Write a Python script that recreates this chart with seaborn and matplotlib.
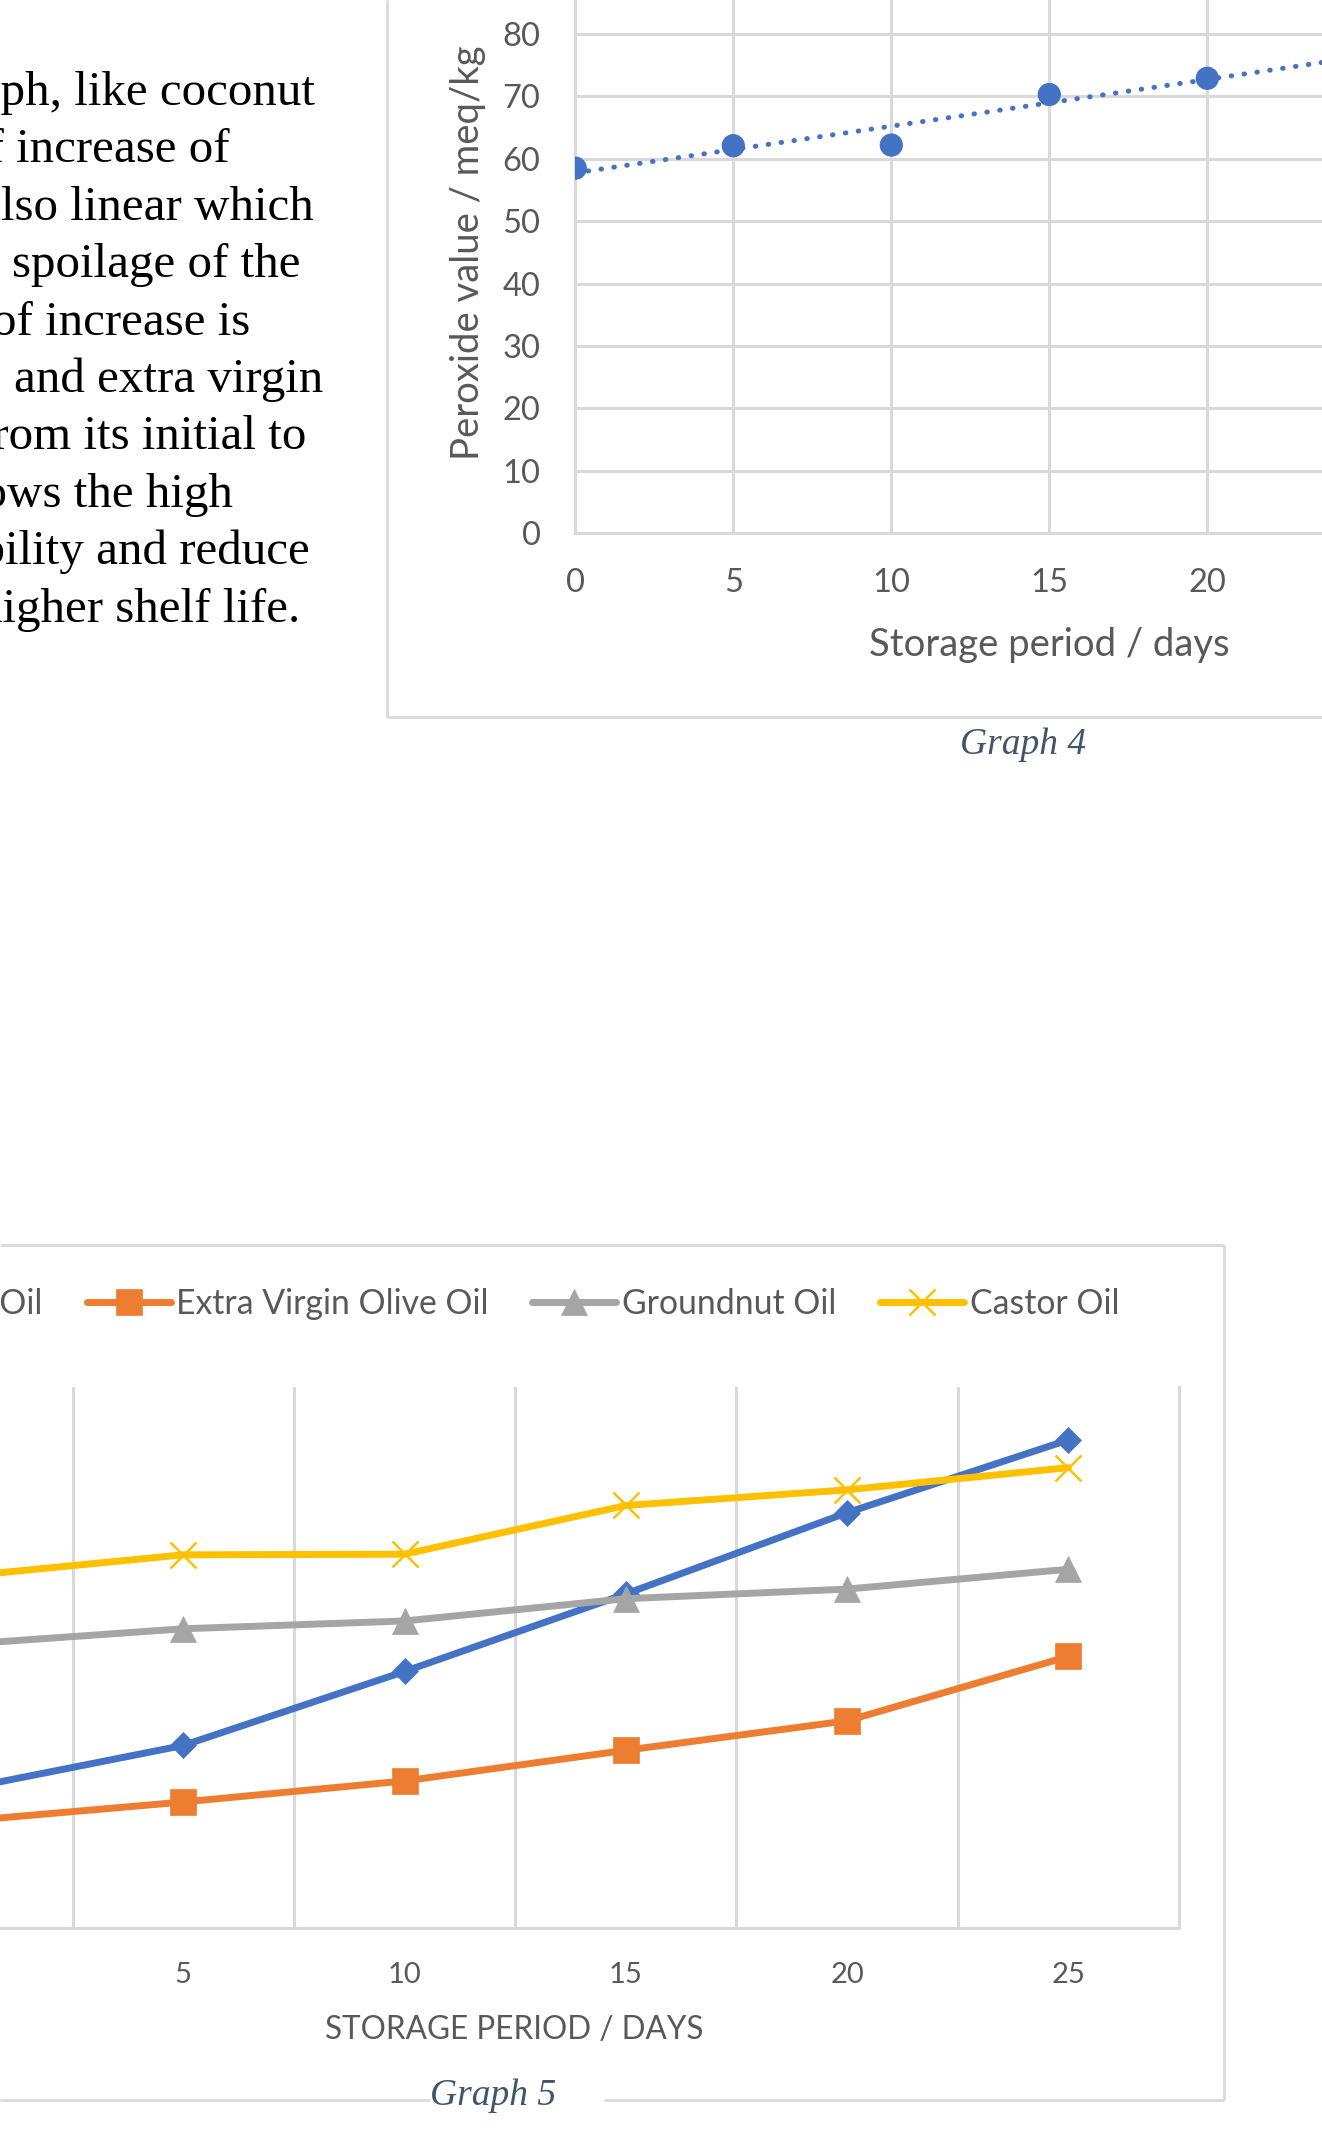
import numpy as np
import pandas as pd
import seaborn as sns
import matplotlib.pyplot as plt
from matplotlib.lines import Line2D

# page size in pixels (dpi 100)
W, H = 1322, 2135

# data
days = [0, 5, 10, 15, 20, 25]
coconut = [23.1, 30.4, 42.7, 55.6, 69.1, 81.2]
olive = [17.8, 21.0, 24.5, 29.6, 34.5, 45.2]
groundnut = [47.2, 49.8, 51.1, 54.8, 56.4, 59.7]
castor = [58.5, 62.1, 62.2, 70.3, 72.9, 76.6]
oils = ["Coconut Oil", "Extra Virgin Olive Oil", "Groundnut Oil", "Castor Oil"]
tick_labels = ["0", "5", "10", "15", "20", "25"]

para_lines = ["graph, like coconut", "of increase of", "also linear which",
              "spoilage of the", "of increase is", "and extra virgin",
              "from its initial to", "shows the high", "stability and reduce",
              "higher shelf life."]
para_ends = [315, 230, 314, 300, 250, 323, 306, 233, 310, 300]

blue, orange, grey, yellow = "#4472C4", "#ED7D31", "#A5A5A5", "#FFC000"
colors = [blue, orange, grey, yellow]
grid_c = "#D9D9D9"
txt_c = "#595959"
cap_c = "#44546A"

sns.set_theme(style="white")
plt.rcParams["font.family"] = ["Lato", "DejaVu Sans"]


def fx(x):
    return x / W


def fy(y):
    return 1 - y / H


def hline(fig, x0, x1, y, lw=2):
    fig.add_artist(Line2D([fx(x0), fx(x1)], [fy(y), fy(y)], transform=fig.transFigure,
                          color=grid_c, lw=lw, solid_capstyle="butt"))


def vline(fig, x, y0, y1, lw=2):
    fig.add_artist(Line2D([fx(x), fx(x)], [fy(y0), fy(y1)], transform=fig.transFigure,
                          color=grid_c, lw=lw, solid_capstyle="butt"))


fig = plt.figure(figsize=(W / 100, H / 100), dpi=100)
fig.patch.set_facecolor("white")

# --- paragraph text (cut at the left edge) ---
for i, (line, xe) in enumerate(zip(para_lines, para_ends)):
    fig.text(fx(xe), fy(105 + 57.4 * i), line, ha="right", va="baseline",
             fontsize=35.3, family="Liberation Serif", color="black")

# --- Graph 4 ---
x0, y0 = 575.3, 533.2
ax1 = fig.add_axes([fx(x0), fy(y0), 31.6 * 30 / W, 6.24 * 90 / H])
ax1.set_facecolor("none")
ax1.set_xlim(0, 30)
ax1.set_ylim(0, 90)
sns.regplot(x=days, y=castor, ax=ax1, ci=None, truncate=False, color=blue,
            scatter_kws=dict(s=280, alpha=1, edgecolors="none", zorder=3),
            line_kws=dict(lw=3.6, ls=(0, (0.1, 2.5)), dash_capstyle="round"))
ax1.set_xlim(0, 30)
ax1.set_ylim(0, 90)
# only the ticks that fall on the page get labels
ax1.set_xticks(days[:5])
ax1.set_yticks(range(0, 81, 10))
ax1.grid(True, color=grid_c, lw=2.2)
ax1.set_axisbelow(True)
for s in ["top", "right"]:
    ax1.spines[s].set_visible(False)
for s in ["left", "bottom"]:
    ax1.spines[s].set_color(grid_c)
    ax1.spines[s].set_linewidth(2.2)
ax1.tick_params(axis="both", length=0, labelsize=23.5, labelcolor=txt_c)
ax1.tick_params(axis="y", pad=25)
ax1.tick_params(axis="x", pad=25)
ax1.set_xlabel("Storage period / days", fontsize=27.5, color=txt_c, va="center")
ax1.set_ylabel("Peroxide value / meq/kg", fontsize=27.5, color=txt_c, va="center")
ax1.xaxis.set_label_coords(0.5, -(645 - y0) / 561.6)
ax1.yaxis.set_label_coords((468 - x0) / 948, 0.5)
# gridlines beyond the page edge
for g in [25, 30]:
    ax1.axvline(g, color=grid_c, lw=2.2, zorder=0)
ax1.axhline(90, color=grid_c, lw=2.2, zorder=0)

vline(fig, 387, 0, 717)
hline(fig, 387, W, 717)
fig.text(fx(1023), fy(754), "Graph 4", ha="center", va="baseline", fontsize=27,
         family="Liberation Serif", style="italic", color=cap_c)

# --- Graph 5 ---
ax2 = fig.add_axes([fx(-148.7), fy(1928.3), 1327.7 / W, 541.3 / H])
ax2.set_facecolor("none")
markers = ["D", "s", "^", "x"]
msizes = [13, 19, 19, 18.7]
series = [coconut, olive, groundnut, castor]
for oil, vals, c, m, ms in zip(oils, series, colors, markers, msizes):
    sns.lineplot(x=days, y=vals, ax=ax2, color=c, lw=5, marker=m, markersize=ms,
                 markeredgecolor=c, markeredgewidth=1.8 if m == "x" else 0.5,
                 solid_capstyle="round", solid_joinstyle="round",
                 label=oil, legend=False)
ax2.set_xlim(-2.5, 27.5)
ax2.set_ylim(0, 90)
ax2.set_xticks(days[1:])
ax2.set_xticklabels(tick_labels[1:])
ax2.set_xticks(np.arange(2.5, 25, 5), minor=True)
ax2.grid(False)
ax2.grid(True, which="minor", axis="x", color=grid_c, lw=2.2)
ax2.tick_params(axis="x", which="both", length=0, labelsize=21, labelcolor=txt_c, pad=24)
ax2.tick_params(axis="y", left=False, labelleft=False)
for s in ["top", "left"]:
    ax2.spines[s].set_visible(False)
for s in ["bottom", "right"]:
    ax2.spines[s].set_color(grid_c)
    ax2.spines[s].set_linewidth(2.2)
ax2.set_xlabel("STORAGE PERIOD / DAYS", fontsize=22.7, color=txt_c, va="center")
ax2.set_ylabel("")
ax2.xaxis.set_label_coords((514 + 148.7) / 1327.7, -102 / 541.3)

handles, labels = ax2.get_legend_handles_labels()
fig.legend(handles, labels, loc="center right", bbox_to_anchor=(fx(1119), fy(1304)),
           ncol=4, frameon=False, fontsize=24.3, handlelength=2.49, handletextpad=0.16,
           columnspacing=1.3, borderpad=0, borderaxespad=0, labelcolor=txt_c)

hline(fig, 0, 1224, 1245)
vline(fig, 1224, 1245, 2100)
hline(fig, 0, 430, 2100)
hline(fig, 604, 1224, 2100)
fig.text(fx(493.4), fy(2105), "Graph 5", ha="center", va="baseline", fontsize=27,
         family="Liberation Serif", style="italic", color=cap_c)

fig.savefig("out.png", dpi=100)
